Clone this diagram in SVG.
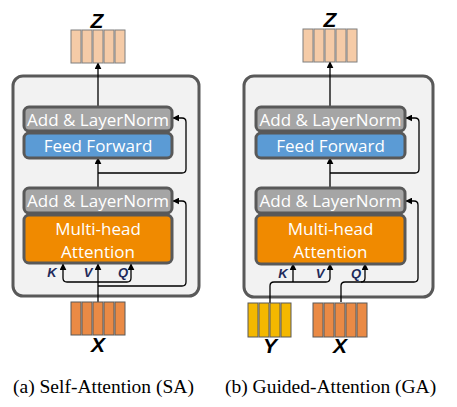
<svg xmlns="http://www.w3.org/2000/svg" width="457" height="407" viewBox="0 0 457 407">
<defs>
<marker id="ah" viewBox="0 0 10 10" refX="9" refY="5" markerWidth="7" markerHeight="7" markerUnits="userSpaceOnUse" orient="auto">
<path d="M0,0 L10,5 L0,10 z" fill="#000"/>
</marker>
<style>
.outer{fill:#F2F2F2;stroke:#595959;stroke-width:3}
.blk{stroke:#595959;stroke-width:3}
.add{fill:#A5A5A5}
.ff{fill:#5B9BD5}
.mha{fill:#F08A00}
.bt{font-family:"Open Sans","Liberation Sans",sans-serif;font-size:17px;fill:#fff;text-anchor:middle;dominant-baseline:central}
.var{font-family:"Liberation Sans",Arial,sans-serif;font-weight:bold;font-style:italic;font-size:21px;fill:#000;text-anchor:middle}
.kvq{font-family:"Liberation Sans",Arial,sans-serif;font-weight:bold;font-style:italic;font-size:13px;fill:#1F2A5A;text-anchor:middle}
.z{fill:#F5CBA7;stroke:#7F7F7F;stroke-width:1}
.x{fill:#EA8A45;stroke:#595959;stroke-width:1}
.y{fill:#F4B800;stroke:#595959;stroke-width:1}
.cap{font-family:"Liberation Serif","Times New Roman",serif;font-size:19.5px;fill:#000}
.c{fill:none;stroke:#000;stroke-width:1.3}
.ca{fill:none;stroke:#000;stroke-width:1.3;marker-end:url(#ah)}
</style>
</defs>

<g id="panel-a-box"><rect class="outer" x="13" y="76" width="186" height="220" rx="10"/></g>
<g id="panel-b-box"><rect class="outer" x="244" y="76" width="189" height="221" rx="10"/></g>

<g id="connectors">
<!-- panel a -->
<path class="ca" d="M98,107 V63"/>
<path class="ca" d="M98,188 V158"/>
<path class="ca" d="M98,173 H182 Q186,173 186,169 V122 Q186,118 182,118 H173"/>
<path class="ca" d="M98,302 V264"/>
<path class="ca" d="M98,282 H67 Q63,282 63,278 V264"/>
<path class="ca" d="M98,282 H127 Q131,282 131,278 V264"/>
<path class="ca" d="M98,286 H182 Q186,286 186,282 V205 Q186,201 182,201 H173"/>
<!-- panel b -->
<path class="ca" d="M330,107 V62"/>
<path class="ca" d="M330,188 V158"/>
<path class="ca" d="M330,173 H415 Q419,173 419,169 V122 Q419,118 415,118 H406"/>
<path class="ca" d="M270,303 V286 Q270,282 274,282 H326 Q330,282 330,278 V264"/>
<path class="ca" d="M293,282 V264"/>
<path class="ca" d="M341,302 V286 Q341,282 345,282 H414 Q418,282 418,278 V205 Q418,201 414,201 H406"/>
<path class="ca" d="M361,282 Q365,282 365,278 V264"/>
</g>

<g id="a-z-tokens">
<rect class="z" x="71" y="30" width="10" height="33"/>
<rect class="z" x="82" y="30" width="10" height="33"/>
<rect class="z" x="93" y="30" width="10" height="33"/>
<rect class="z" x="104" y="30" width="10" height="33"/>
<rect class="z" x="115" y="30" width="10" height="33"/>
<text class="var" x="97" y="28">Z</text>
</g>
<g id="a-addnorm-2"><rect class="blk add" x="24" y="107" width="148" height="24" rx="5"/><text class="bt" x="98" y="119">Add &amp; LayerNorm</text></g>
<g id="a-ff"><rect class="blk ff" x="24" y="133" width="148" height="25" rx="5"/><text class="bt" x="98" y="145.5">Feed Forward</text></g>
<g id="a-addnorm-1"><rect class="blk add" x="24" y="188" width="148" height="25" rx="5"/><text class="bt" x="98" y="200.5">Add &amp; LayerNorm</text></g>
<g id="a-mha"><rect class="blk mha" x="24" y="215" width="148" height="48" rx="5"/><text class="bt" x="98" y="228">Multi-head</text><text class="bt" x="98" y="251">Attention</text></g>
<g id="a-kvq"><text class="kvq" x="52" y="277">K</text><text class="kvq" x="88" y="277">V</text><text class="kvq" x="123" y="277">Q</text></g>
<g id="a-x-tokens">
<rect class="x" x="71" y="302" width="10" height="33"/>
<rect class="x" x="82" y="302" width="10" height="33"/>
<rect class="x" x="93" y="302" width="10" height="33"/>
<rect class="x" x="104" y="302" width="10" height="33"/>
<rect class="x" x="115" y="302" width="10" height="33"/>
<text class="var" x="98" y="352">X</text>
</g>

<g id="b-z-tokens">
<rect class="z" x="303" y="29" width="10" height="33"/>
<rect class="z" x="314" y="29" width="10" height="33"/>
<rect class="z" x="325" y="29" width="10" height="33"/>
<rect class="z" x="336" y="29" width="10" height="33"/>
<rect class="z" x="347" y="29" width="10" height="33"/>
<text class="var" x="330" y="27">Z</text>
</g>
<g id="b-addnorm-2"><rect class="blk add" x="256" y="107" width="149" height="24" rx="5"/><text class="bt" x="330.5" y="119">Add &amp; LayerNorm</text></g>
<g id="b-ff"><rect class="blk ff" x="256" y="133" width="149" height="25" rx="5"/><text class="bt" x="330.5" y="145.5">Feed Forward</text></g>
<g id="b-addnorm-1"><rect class="blk add" x="256" y="188" width="149" height="25" rx="5"/><text class="bt" x="330.5" y="200.5">Add &amp; LayerNorm</text></g>
<g id="b-mha"><rect class="blk mha" x="256" y="215" width="149" height="49" rx="5"/><text class="bt" x="330.5" y="228.5">Multi-head</text><text class="bt" x="330.5" y="251.5">Attention</text></g>
<g id="b-kvq"><text class="kvq" x="283" y="278">K</text><text class="kvq" x="320" y="278">V</text><text class="kvq" x="356" y="278">Q</text></g>
<g id="b-y-tokens">
<rect class="y" x="248" y="303" width="10" height="34"/>
<rect class="y" x="259" y="303" width="10" height="34"/>
<rect class="y" x="270" y="303" width="10" height="34"/>
<rect class="y" x="281" y="303" width="10" height="34"/>
<text class="var" x="270" y="353">Y</text>
</g>
<g id="b-x-tokens">
<rect class="x" x="313" y="303" width="10" height="34"/>
<rect class="x" x="324" y="303" width="10" height="34"/>
<rect class="x" x="335" y="303" width="10" height="34"/>
<rect class="x" x="346" y="303" width="10" height="34"/>
<rect class="x" x="357" y="303" width="10" height="34"/>
<text class="var" x="340" y="353">X</text>
</g>

<g id="captions">
<text class="cap" x="13" y="393">(a) Self-Attention (SA)</text>
<text class="cap" x="225" y="393">(b) Guided-Attention (GA)</text>
</g>
</svg>
